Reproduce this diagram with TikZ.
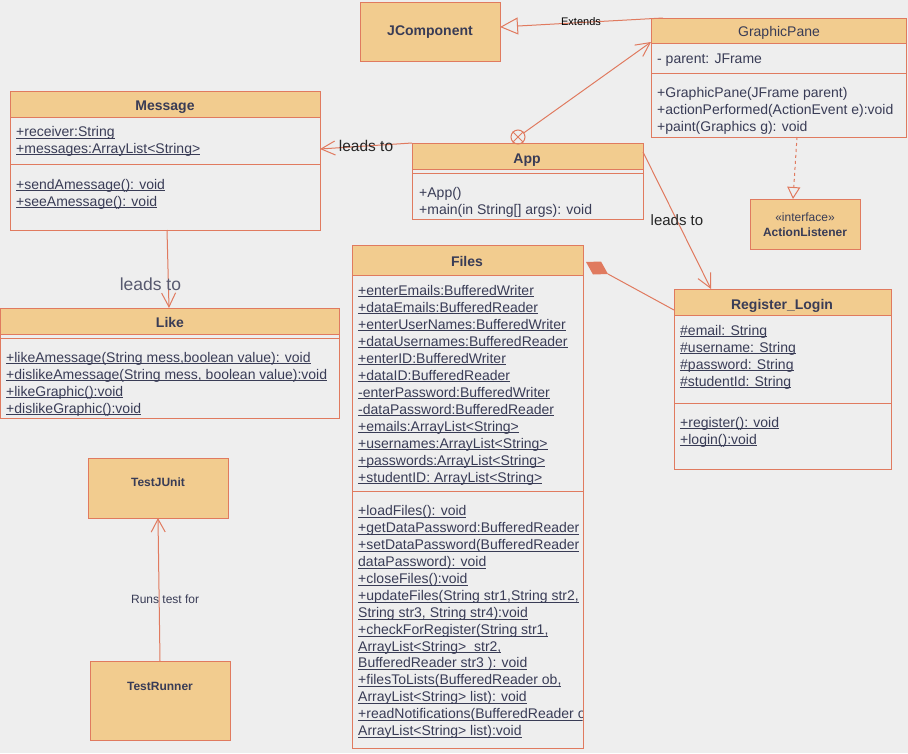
\documentclass[tikz,border=0pt]{standalone}
\usepackage{fontspec}
\setmainfont{Liberation Sans}
\usetikzlibrary{arrows.meta,calc}
\definecolor{bgc}{HTML}{EEEEEE}
\definecolor{stk}{HTML}{E07A5F}
\definecolor{hdrc}{HTML}{F2CC8F}
\definecolor{txt}{HTML}{393C56}
\newcommand\ulx[1]{\setbox0=\hbox{#1}\rlap{\rule[-2.2pt]{\wd0}{0.8pt}}\box0}
\newcommand\fs[1]{\fontsize{#1}{#1}\selectfont}
\newcommand\umlbox[6]{%
  \fill[hdrc] (#2,#3) rectangle ++(#4,#6);
  \node[box, minimum width=#4pt, minimum height=#5pt] (#1) at (#2,#3) {};
  \draw[conn] (#2,#3) ++(0,#6) -- ++(#4,0);
}
\begin{document}
\begin{tikzpicture}[x=1pt,y=-1pt,
  box/.style={draw=stk, line width=1pt, anchor=north west, inner sep=0pt, outer sep=0pt},
  fbox/.style={box, fill=hdrc},
  mem/.style={anchor=base west, inner sep=0pt, font=\fs{14}, text=txt},
  ttl/.style={anchor=base, inner sep=0pt, font=\bfseries\fs{14}, text=txt},
  conn/.style={draw=stk, line width=1pt},
  lead/.style={conn, -{Straight Barb[length=14pt,width=14pt]}},
  lbl/.style={inner sep=0pt, font=\fs{15}, text=black!85},
]
\fill[bgc] (0,0) rectangle (908,753);
\useasboundingbox (0,0) rectangle (908,753);

% ---------- Message
\umlbox{msg}{10}{91}{310}{139}{26}
\draw[conn] (10,164) -- (320,164);
\node[ttl] (msgt) at (165,110) {Message};
\foreach \t [count=\i from 0] in {{+receiver:String},{+messages:ArrayList<String>}}
  \node[mem] (ma\i) at (16,{136.5+16.5*\i}) {\ulx{\t}};
\foreach \t [count=\i from 0] in {{+sendAmessage(): void},{+seeAmessage(): void}}
  \node[mem] (mm\i) at (16,{189+17*\i}) {\ulx{\t}};

% ---------- Like
\umlbox{like}{0.5}{308}{339}{110}{26}
\draw[conn] (0.5,338) -- (339.5,338);
\node[ttl] (liket) at (170,327) {Like};
\foreach \t [count=\i from 0] in {{+likeAmessage(String mess,boolean value): void},{+dislikeAmessage(String mess, boolean value):void},{+likeGraphic():void},{+dislikeGraphic():void}}
  \node[mem] (lm\i) at (6,{362+17*\i}) {\ulx{\t}};

% ---------- JComponent
\node[fbox, minimum width=140pt, minimum height=59pt] (jc) at (360,2) {};
\node[ttl] (jct) at (430,35) {JComponent};

% ---------- GraphicPane
\umlbox{gp}{651}{18}{255}{119}{25}
\draw[conn] (651,73) -- (906,73);
\node[ttl, font=\fs{14}] (gpt) at (779,36) {GraphicPane};
\node[mem] (ga0) at (657,63) {- parent: JFrame};
\foreach \t [count=\i from 0] in {{+GraphicPane(JFrame parent)},{+actionPerformed(ActionEvent e):void},{+paint(Graphics g): void}}
  \node[mem] (gm\i) at (657,{97+17*\i}) {\t};

% ---------- App
\umlbox{app}{412}{143}{231}{76}{26}
\draw[conn] (412,173) -- (643,173);
\node[ttl] (appt) at (527,163) {App};
\node[mem] (am0) at (419,197) {+App()};
\node[mem] (am1) at (419,214) {+main(in String[] args): void};

% ---------- ActionListener
\node[fbox, minimum width=110pt, minimum height=50pt] (al) at (750,199) {};
\node[ttl, font=\fs{12}] (alst) at (805,221) {«interface»};
\node[ttl, font=\bfseries\fs{12}] (alt) at (805,236) {ActionListener};

% ---------- Files
\umlbox{files}{352}{245}{231}{503}{30}
\draw[conn] (352,491) -- (583,491);
\node[ttl] (filest) at (467,266) {Files};
\begin{scope}
\clip (352,276) rectangle (582.5,747);
\foreach \t [count=\i from 0] in {{+enterEmails:BufferedWriter},{+dataEmails:BufferedReader},{+enterUserNames:BufferedWriter},{+dataUsernames:BufferedReader},{+enterID:BufferedWriter},{+dataID:BufferedReader},{-enterPassword:BufferedWriter},{-dataPassword:BufferedReader},{+emails:ArrayList<String>},{+usernames:ArrayList<String>},{+passwords:ArrayList<String>},{+studentID: ArrayList<String>}}
  \node[mem] (fa\i) at (358,{295+17*\i}) {\ulx{\t}};
\foreach \t [count=\i from 0] in {{+loadFiles(): void},{+getDataPassword:BufferedReader},{+setDataPassword(BufferedReader},{dataPassword): void},{+closeFiles():void},{+updateFiles(String str1,String str2,},{String str3, String str4):void},{+checkForRegister(String str1,},{ArrayList<String>~ str2,},{BufferedReader str3 ): void},{+filesToLists(BufferedReader ob,},{ArrayList<String> list): void},{+readNotifications(BufferedReader ob,},{ArrayList<String> list):void}}
  \node[mem] (fm\i) at (358,{515.7+16.92*\i}) {\ulx{\t}};
\end{scope}

% ---------- Register_Login
\umlbox{rl}{674}{289}{217}{180}{26}
\draw[conn] (674,403) -- (891,403);
\node[ttl] (rlt) at (782,309) {Register\_Login};
\foreach \t [count=\i from 0] in {{\#email: String},{\#username: String},{\#password: String},{\#studentId: String}}
  \node[mem] (ra\i) at (680,{335+17*\i}) {\ulx{\t}};
\foreach \t [count=\i from 0] in {{+register(): void},{+login():void}}
  \node[mem] (rm\i) at (680,{427+17*\i}) {\ulx{\t}};

% ---------- Tests
\node[fbox, minimum width=140pt, minimum height=60pt] (tj) at (88,458) {};
\node[ttl, font=\bfseries\fs{12}] (tjt) at (158,486.3) {TestJUnit};
\node[fbox, minimum width=140pt, minimum height=79pt] (tr) at (90,661) {};
\node[ttl, font=\bfseries\fs{12}] (trt) at (160,690.3) {TestRunner};

% ---------- Connectors
% Extends
\draw[conn, -{Triangle[open, length=18pt, width=17pt]}] ($(gp.north west)+(12,0)$) -- ($(jc.east)+(0,-4.5)$);
\node[inner sep=0pt, font=\fs{11}, text=black] (ext) at (581,22) {Extends};

% App -> GraphicPane (nesting)
\node[draw=stk, line width=1pt, circle, minimum size=14pt, inner sep=0pt] (cp) at (518,137) {};
\draw[conn] (cp.north east) -- (cp.south west) (cp.north west) -- (cp.south east);
\draw[lead] (cp) -- ($(gp.north west)+(0,24)$);

% App -> Message
\draw[lead] (app.north west) -- node[lbl, pos=0.5, font=\fs{15.5}] (l1) {leads to} ($(msg.north east)+(0,58)$);

% App -> Register_Login
\draw[lead] ($(app.north east)+(0,9)$) -- node[lbl, pos=0.5] (l2) {leads to} ($(rl.north west)+(37,0)$);

% Message -> Like
\draw[lead] ($(msg.south west)+(157,0)$) -- node[lbl, pos=0.7, xshift=-18pt, font=\fs{17.5}, text=txt!85] (l3) {leads to} ($(like.north west)+(168.5,0)$);

% Register_Login -> Files (composition)
\coordinate (dm) at (608,274);
\draw[conn] ($(rl.north west)+(0,21)$) -- (dm);
\fill[stk] (dm) -- (601,261.5) -- (586,262) -- (593,274.5) -- cycle;

% GraphicPane -> ActionListener (realization)
\draw[conn, dash pattern=on 3pt off 3pt, -{Triangle[open, length=12pt, width=13pt]}] ($(gp.south west)+(146,0)$) -- ($(al.north west)+(43,0)$);

% TestRunner -> TestJUnit
\draw[conn, -{Straight Barb[length=13pt,width=14pt]}] (tr.north) -- node[pos=0.43, xshift=6pt, inner sep=0pt, font=\fs{12}, text=txt] (l4) {Runs test for} (tj.south);

\end{tikzpicture}
\end{document}
